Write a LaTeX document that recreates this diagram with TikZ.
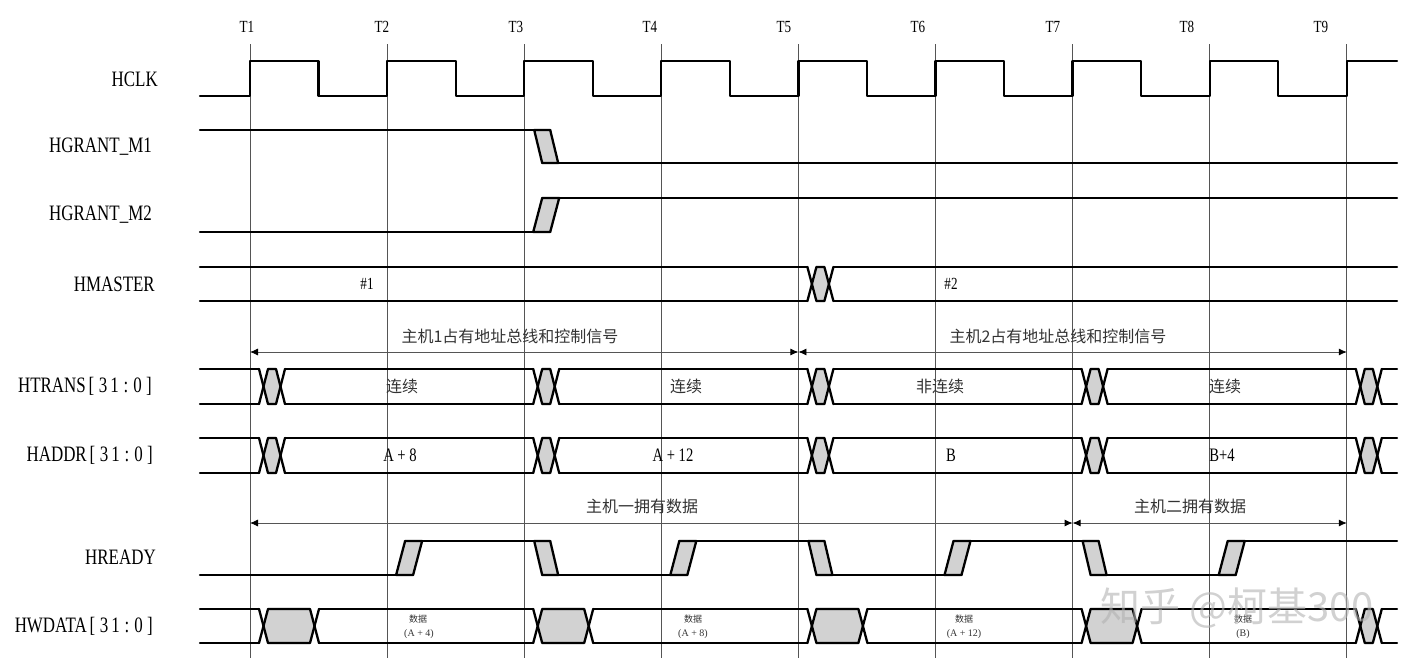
\documentclass[tikz,border=0pt]{standalone}
\usepackage{fontspec}
\setmainfont{Liberation Serif}
\newfontfamily\nar[FakeStretch=0.77]{Liberation Serif}
\newfontfamily\cjk{Noto Sans CJK SC}
\usetikzlibrary{arrows.meta}
\definecolor{gfill}{RGB}{210,210,210}
\definecolor{tgray}{RGB}{85,85,85}
\def\tA{250}\def\tB{387.1}\def\tC{524.2}\def\tD{661.3}\def\tE{798.4}
\def\tF{935.5}\def\tG{1072.6}\def\tH{1209.7}\def\tI{1346.8}
\newcommand\bk[1]{\makebox[11.5pt][c]{#1}}
\newcommand\bustr[4]{%
  \fill[gfill] ({#1+4.5},{(#3+#4)/2}) -- ({#1+9},#3) -- ({#2-9},#3) -- ({#2-4.5},{(#3+#4)/2}) -- ({#2-9},#4) -- ({#1+9},#4) -- cycle;
  \draw[wave] (#1,#3) -- ({#1+9},#4) -- ({#2-9},#4) -- (#2,#3);
  \draw[wave] (#1,#4) -- ({#1+9},#3) -- ({#2-9},#3) -- (#2,#4);
}
\newcommand\busline[3]{%
  \xdef\prevx{200}%
  \foreach \s/\e in {#3}{%
    \draw[wave] (\prevx,#1) -- (\s,#1) (\prevx,#2) -- (\s,#2);
    \bustr{\s}{\e}{#1}{#2}
    \xdef\prevx{\e}%
  }%
  \draw[wave] (\prevx,#1) -- (1397,#1) (\prevx,#2) -- (1397,#2);
}
\newcommand\riseedge[3]{%
  \filldraw[wave,fill=gfill] ({#1+9},#2) -- ({#1+26},#2) -- ({#1+35},#3) -- ({#1+18},#3) -- cycle;}
\newcommand\falledge[3]{%
  \filldraw[wave,fill=gfill] ({#1+10},#2) -- ({#1+26},#2) -- ({#1+34},#3) -- ({#1+18},#3) -- cycle;}
\begin{document}
\begin{tikzpicture}[x=1pt,y=-1pt,
  wave/.style={line width=2.3pt,line join=round,line cap=round,black},
  tline/.style={line width=0.9pt,tgray},
  sig/.style={anchor=east,inner sep=0pt,font=\nar\fontsize{22}{24}\selectfont},
  tlab/.style={inner sep=0pt,font=\nar\fontsize{17}{19}\selectfont},
  val/.style={inner sep=0pt,font=\nar\fontsize{19}{21}\selectfont},
  cn/.style={inner sep=0pt,font=\cjk\fontsize{16}{18}\selectfont,text=black!80},
  dat/.style={inner sep=0pt,font=\fontsize{10}{11}\selectfont,text=black!80},
  span/.style={line width=0.8pt,tgray,{Latex[length=8pt,width=7pt,fill=black,color=black]}-{Latex[length=8pt,width=7pt,fill=black,color=black]}}
]
\useasboundingbox (0,0) rectangle (1419,670);
% clock time lines
\foreach \t in {\tA,\tB,\tC,\tD,\tE,\tF,\tG,\tH,\tI}{\draw[tline] (\t,44) -- (\t,658);}
% T labels
\node[tlab] (T1) at (247,27) {T1};
\node[tlab] (T2) at (382,27) {T2};
\node[tlab] (T3) at (516,27) {T3};
\node[tlab] (T4) at (650,27) {T4};
\node[tlab] (T5) at (784,27) {T5};
\node[tlab] (T6) at (918,27) {T6};
\node[tlab] (T7) at (1053,27) {T7};
\node[tlab] (T8) at (1187,27) {T8};
\node[tlab] (T9) at (1321,27) {T9};
% signal labels
\node[sig] (lclk) at (158,79) {HCLK};
\node[sig] (lg1) at (152,147) {HGRANT\_M1};
\node[sig] (lg2) at (152,215) {HGRANT\_M2};
\node[sig] (lmas) at (155,284) {HMASTER};
\node[sig] (ltr) at (155,386) {HTRANS\bk{[}\bk{3}\bk{1}\bk{:}\bk{0}\bk{]}};
\node[sig] (lad) at (156,455) {HADDR\bk{[}\bk{3}\bk{1}\bk{:}\bk{0}\bk{]}};
\node[sig] (lrdy) at (156,557) {HREADY};
\node[sig] (lwd) at (156,626) {HWDATA\bk{[}\bk{3}\bk{1}\bk{:}\bk{0}\bk{]}};
% HCLK
\draw[wave] (200,96)
  \foreach \t in {\tA,\tB,\tC,\tD,\tE,\tF,\tG,\tH}{ -- (\t,96) -- (\t,61) -- ({\t+68.55},61) -- ({\t+68.55},96)}
  -- (\tI,96) -- (\tI,61) -- (1397,61);
% HGRANT_M1
\draw[wave] (200,130) -- ({\tC+26},130);
\falledge{\tC}{130}{163}
\draw[wave] ({\tC+18},163) -- (1397,163);
% HGRANT_M2
\draw[wave] (200,232) -- ({\tC+26},232);
\riseedge{\tC}{232}{198}
\draw[wave] ({\tC+18},198) -- (1397,198);
% HMASTER
\busline{267}{301}{807.4/833.4}
\node[val,font=\nar\fontsize{17}{19}\selectfont] (m1) at (367,284) {\#1};
\node[val,font=\nar\fontsize{17}{19}\selectfont] (m2) at (951,284) {\#2};
% address phase spans
\coordinate (a1) at (\tA,352); \coordinate (a5) at (\tE,352); \coordinate (a9) at (\tI,352);
\draw[span] (a1) -- (a5);
\draw[span] (a5) -- (a9);
\node[cn] (c1) at (510,336) {主机1占有地址总线和控制信号};
\node[cn] (c2) at (1058,336) {主机2占有地址总线和控制信号};
% HTRANS
\busline{369}{404}{259/285,533.2/559.2,807.4/833.4,1081.6/1107.6,1355.8/1381.8}
\node[cn] (h1) at (402,386) {连续};
\node[cn] (h2) at (686,386) {连续};
\node[cn] (h3) at (940,386) {非连续};
\node[cn] (h4) at (1225,386) {连续};
% HADDR
\busline{438}{473}{259/285,533.2/559.2,807.4/833.4,1081.6/1107.6,1355.8/1381.8}
\node[val] (d1) at (400,455) {A + 8};
\node[val] (d2) at (673,455) {A + 12};
\node[val] (d3) at (951,455) {B};
\node[val] (d4) at (1222,455) {B+4};
% data phase spans
\coordinate (b1) at (\tA,523); \coordinate (b7) at (\tG,523); \coordinate (b9) at (\tI,523);
\draw[span] (b1) -- (b7);
\draw[span] (b7) -- (b9);
\node[cn] (c3) at (642,506) {主机一拥有数据};
\node[cn] (c4) at (1190,506) {主机二拥有数据};
% HREADY
\draw[wave] (200,575) -- ({\tB+26},575);
\riseedge{\tB}{575}{541}
\draw[wave] ({\tB+18},541) -- ({\tC+26},541);
\falledge{\tC}{541}{575}
\draw[wave] ({\tC+18},575) -- ({\tD+26},575);
\riseedge{\tD}{575}{541}
\draw[wave] ({\tD+18},541) -- ({\tE+26},541);
\falledge{\tE}{541}{575}
\draw[wave] ({\tE+18},575) -- ({\tF+26},575);
\riseedge{\tF}{575}{541}
\draw[wave] ({\tF+18},541) -- ({\tG+26},541);
\falledge{\tG}{541}{575}
\draw[wave] ({\tG+18},575) -- ({\tH+26},575);
\riseedge{\tH}{575}{541}
\draw[wave] ({\tH+18},541) -- (1397,541);
% HWDATA
\busline{609}{643}{259/319,533.2/593.2,807.4/867.4,1081.6/1141.6,1355.8/1381.8}
\node[dat,font=\cjk\fontsize{9}{10}\selectfont] (w1a) at (418,619) {数据};
\node[dat] (w1b) at (419,634) {(A + 4)};
\node[dat,font=\cjk\fontsize{9}{10}\selectfont] (w2a) at (693,619) {数据};
\node[dat] (w2b) at (693,634) {(A + 8)};
\node[dat,font=\cjk\fontsize{9}{10}\selectfont] (w3a) at (964,619) {数据};
\node[dat] (w3b) at (964,634) {(A + 12)};
\node[dat,font=\cjk\fontsize{9}{10}\selectfont] (w4a) at (1243,619) {数据};
\node[dat] (w4b) at (1243,634) {(B)};
% watermark
\node[inner sep=0pt,font=\cjk\fontsize{40}{44}\selectfont,text=black!30,opacity=0.6] (wm) at (1237,608) {知乎 @柯基300};
\end{tikzpicture}
\end{document}
